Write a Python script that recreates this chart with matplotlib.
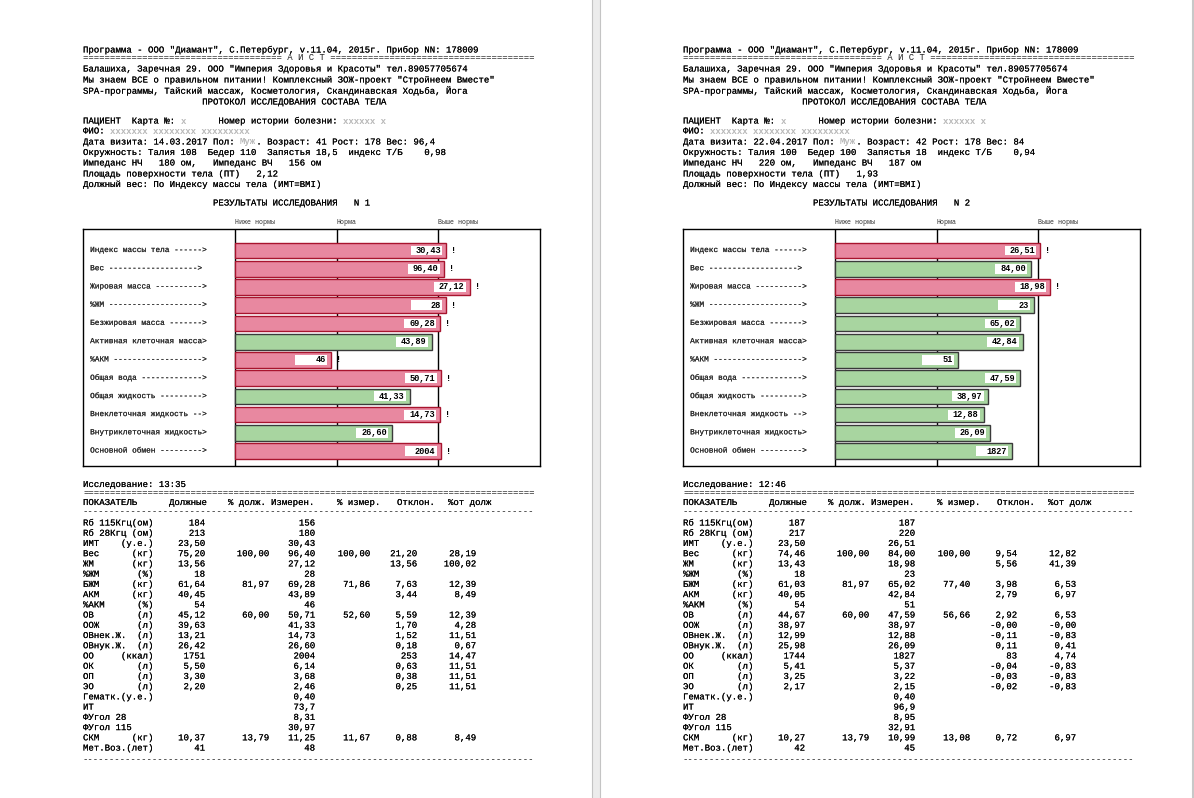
import matplotlib
matplotlib.use("Agg")
import matplotlib.pyplot as plt
import matplotlib.patheffects as pe
from matplotlib.patches import Rectangle

plt.rcParams['font.family'] = ['Liberation Mono', 'DejaVu Sans Mono']

W, H = 1194, 798
FS = 6.5
CW = FS / 72 * 100 * 0.6      # advance of one monospace char, px
BLUR = '#b8b8b8'
THICK = [pe.withStroke(linewidth=0.06, foreground='black')]

# ---------------- data ----------------
head_common = [
    'Программа - ООО "Диамант", С.Петербург, v.11.04, 2015г. Прибор NN: 178009',
    '=' * 37 + ' А И С Т ' + '=' * 38,
    'Балашиха, Заречная 29. ООО "Империя Здоровья и Красоты" тел.89057705674',
    'Мы знаем ВСЕ о правильном питании! Комплексный ЗОЖ-проект "Стройнеем Вместе"',
    'SPA-программы, Тайский массаж, Косметология, Скандинавская Ходьба, Йога',
]
title = 'ПРОТОКОЛ ИССЛЕДОВАНИЯ СОСТАВА ТЕЛА'

visit_date = ['14.03.2017', '22.04.2017']
age = ['41', '42']
weight = ['96,4', '84']
waist = ['108', '100']
hips = ['110', '100']
wrist = ['18,5', '18']
tb_index = ['0,98', '0,94']
imp_lf = ['180', '220']
imp_hf = ['156', '187']
surface = ['2,12', '1,93']
exam_no = ['1', '2']
exam_time = ['13:35', '12:46']

bar_names = ['Индекс массы тела ------>', 'Вес ------------------->',
             'Жировая масса ---------->', '%ЖМ -------------------->',
             'Безжировая масса ------->', 'Активная клеточная масса>',
             '%АКМ ------------------->', 'Общая вода ------------->',
             'Общая жидкость --------->', 'Внеклеточная жидкость -->',
             'Внутриклеточная жидкость>', 'Основной обмен --------->']
scale_names = ['Ниже нормы', 'Норма', 'Выше нормы']

bar_len_1 = [103.9, 102.6, 115.4, 103.9, 100.8, 96.8, 47.2, 101.1, 86.0, 100.8, 77.1, 101.1]
bar_txt_1 = ['30,43', '96,40', '27,12', '28', '69,28', '43,89', '46', '50,71',
             '41,33', '14,73', '26,60', '2004']
bar_flag_1 = [1, 1, 1, 1, 1, 0, 1, 1, 0, 1, 0, 1]

bar_len_2 = [101.0, 96.3, 105.9, 97.7, 91.1, 92.4, 60.3, 91.1, 75.1, 73.1, 76.3, 87.0]
bar_txt_2 = ['26,51', '84,00', '18,98', '23', '65,02', '42,84', '51', '47,59',
             '38,97', '12,88', '26,09', '1827']
bar_flag_2 = [1, 0, 1, 0, 0, 0, 0, 0, 0, 0, 0, 0]

col_heads = ['ПОКАЗАТЕЛЬ', 'Должные', '% долж.', 'Измерен.', '% измер.', 'Отклон.', '%от долж']
row_names = ['Rб 115Кгц', 'Rб 28Кгц', 'ИМТ', 'Вес', 'ЖМ', '%ЖМ', 'БЖМ', 'АКМ', '%АКМ',
             'ОВ', 'ООЖ', 'ОВнек.Ж.', 'ОВнук.Ж.', 'ОО', 'ОК', 'ОП', 'ЭО', 'Гематк.',
             'ИТ', 'ФУгол 28', 'ФУгол 115', 'СКМ', 'Мет.Воз.']
row_units = ['(ом)', '(ом)', '(у.е.)', '(кг)', '(кг)', '(%)', '(кг)', '(кг)', '(%)',
             '(л)', '(л)', '(л)', '(л)', '(ккал)', '(л)', '(л)', '(л)', '(у.е.)',
             '', '', '', '(кг)', '(лет)']

due_1 = ['184', '213', '23,50', '75,20', '13,56', '18', '61,64', '40,45', '54', '45,12',
         '39,63', '13,21', '26,42', '1751', '5,50', '3,30', '2,20', '', '', '', '', '10,37', '41']
due_pct_1 = ['', '', '', '100,00', '', '', '81,97', '', '', '60,00',
             '', '', '', '', '', '', '', '', '', '', '', '13,79', '']
meas_1 = ['156', '180', '30,43', '96,40', '27,12', '28', '69,28', '43,89', '46', '50,71',
          '41,33', '14,73', '26,60', '2004', '6,14', '3,68', '2,46', '0,40', '73,7',
          '8,31', '30,97', '11,25', '48']
meas_pct_1 = ['', '', '', '100,00', '', '', '71,86', '', '', '52,60',
              '', '', '', '', '', '', '', '', '', '', '', '11,67', '']
dev_1 = ['', '', '', '21,20', '13,56', '', '7,63', '3,44', '', '5,59', '1,70', '1,52', '0,18',
         '253', '0,63', '0,38', '0,25', '', '', '', '', '0,88', '']
dev_pct_1 = ['', '', '', '28,19', '100,02', '', '12,39', '8,49', '', '12,39', '4,28', '11,51',
             '0,67', '14,47', '11,51', '11,51', '11,51', '', '', '', '', '8,49', '']

due_2 = ['187', '217', '23,50', '74,46', '13,43', '18', '61,03', '40,05', '54', '44,67',
         '38,97', '12,99', '25,98', '1744', '5,41', '3,25', '2,17', '', '', '', '', '10,27', '42']
due_pct_2 = ['', '', '', '100,00', '', '', '81,97', '', '', '60,00',
             '', '', '', '', '', '', '', '', '', '', '', '13,79', '']
meas_2 = ['187', '220', '26,51', '84,00', '18,98', '23', '65,02', '42,84', '51', '47,59',
          '38,97', '12,88', '26,09', '1827', '5,37', '3,22', '2,15', '0,40', '96,9',
          '8,95', '32,91', '10,99', '45']
meas_pct_2 = ['', '', '', '100,00', '', '', '77,40', '', '', '56,66',
              '', '', '', '', '', '', '', '', '', '', '', '13,08', '']
dev_2 = ['', '', '', '9,54', '5,56', '', '3,98', '2,79', '', '2,92', '-0,00', '-0,11', '0,11',
         '83', '-0,04', '-0,03', '-0,02', '', '', '', '', '0,72', '']
dev_pct_2 = ['', '', '', '12,82', '41,39', '', '6,53', '6,97', '', '6,53', '-0,00', '-0,83',
             '0,41', '4,74', '-0,83', '-0,83', '-0,83', '', '', '', '', '6,97', '']

pages = [
    dict(bars=(bar_len_1, bar_txt_1, bar_flag_1),
         cols=(due_1, due_pct_1, meas_1, meas_pct_1, dev_1, dev_pct_1)),
    dict(bars=(bar_len_2, bar_txt_2, bar_flag_2),
         cols=(due_2, due_pct_2, meas_2, meas_pct_2, dev_2, dev_pct_2)),
]

PINK, PINK_EDGE = '#e888a0', '#a8142e'
GREEN, GREEN_EDGE = '#a8d5a0', '#3a3a3a'

# ---------------- drawing ----------------
fig = plt.figure(figsize=(W / 100, H / 100), dpi=100)
bg = fig.add_axes([0, 0, 1, 1])
bg.set_xlim(0, W)
bg.set_ylim(H, 0)
bg.axis('off')

# gap between the two pages and the right border
bg.add_patch(Rectangle((592, -5), 8, H + 10, fc='#ececec', ec='#c4c4c4', lw=0.8))
bg.plot([1192.5, 1192.5], [0, H], color='#c8c8c8', lw=1.5)


def put(x, y, s, **kw):
    kw.setdefault('fontsize', FS)
    kw.setdefault('va', 'center')
    kw.setdefault('color', 'black')
    if kw['color'] == 'black':
        kw.setdefault('path_effects', THICK)
    bg.text(x, y, s, **kw)


def put_segs(x, y, segs):
    col = 0
    for s, blur in segs:
        put(x + col * CW, y, s, color=BLUR if blur else 'black',
            fontweight='bold' if blur else 'normal')
        col += len(s)


for p, page in enumerate(pages):
    x0 = 83 + 600 * p

    # header block
    put(x0, 50, head_common[0])
    put(x0, 58, head_common[1], color='#222222')
    for s, y in zip(head_common[2:], [69, 80, 91]):
        put(x0, y, s)
    put(x0 + 22 * CW, 102, title)
    put_segs(x0, 121, [('ПАЦИЕНТ  Карта №: ', False), ('х', True),
                       ('      Номер истории болезни: ', False), ('хххххх х', True)])
    put_segs(x0, 131, [('ФИО: ', False), ('ххххххх хххххххх ххххххххх', True)])
    put_segs(x0, 142, [('Дата визита: %s Пол: ' % visit_date[p], False), ('Муж', True),
                       ('. Возраст: %s Рост: 178 Вес: %s' % (age[p], weight[p]), False)])
    put(x0, 152.5, 'Окружность: Талия %s  Бедер %s  Запястья %s  индекс Т/Б    %s'
        % (waist[p], hips[p], wrist[p], tb_index[p]))
    put(x0, 163, 'Импеданс НЧ   %s ом,   Импеданс ВЧ   %s ом' % (imp_lf[p], imp_hf[p]))
    put(x0, 174, 'Площадь поверхности тела (ПТ)   %s' % surface[p])
    put(x0, 184.5, 'Должный вес: По Индексу массы тела (ИМТ=BMI)')
    put(x0 + 24 * CW, 203, 'РЕЗУЛЬТАТЫ ИССЛЕДОВАНИЯ   N %s' % exam_no[p])

    # scale captions above the chart
    for k, s in enumerate(scale_names):
        put(x0 + 152 + k * 101.5, 222.5, s, fontsize=4.8, color='#333333')

    # bar chart
    lens, txts, flags = page['bars']
    bx, by, bw, bh = x0, 229, 457, 237
    ax = fig.add_axes([bx / W, 1 - (by + bh) / H, bw / W, bh / H])
    ax.set_xlim(-75, 150)
    ax.set_ylim(11.82, -1.18)
    ax.set_xticks([])
    ax.set_yticks([])
    for sp in ax.spines.values():
        sp.set_linewidth(1.0)
    for v in (0, 50, 100):
        ax.axvline(v, color='black', lw=1.0, zorder=1)
    ypos = list(range(len(lens)))
    ax.barh(ypos, lens, height=0.86, left=0,
            color=[PINK if f else GREEN for f in flags],
            edgecolor=[PINK_EDGE if f else GREEN_EDGE for f in flags],
            linewidth=1.0, zorder=2)
    for i, (L, t, f) in enumerate(zip(lens, txts, flags)):
        ax.add_patch(Rectangle((L - 17.6, i - 0.27), 15.6, 0.54, fc='white', ec='none', zorder=3))
        ax.text(L - 2.6, i, t, ha='right', va='center', fontsize=6.2,
                fontweight='bold', zorder=4)
        if f:
            ax.text(L + 2.4, i, '!', ha='left', va='center', fontsize=6.2, fontweight='bold')
        ax.text(-71.5, i, bar_names[i], ha='left', va='center', fontsize=5.6, color='#2a2a2a',
                path_effects=[pe.withStroke(linewidth=0.08, foreground='#2a2a2a')])

    # table
    put(x0, 484.5, 'Исследование: %s' % exam_time[p])
    put(x0, 493, '=' * 84, color='#222222')
    for s, hx in zip(col_heads, [0, 86, 145, 188, 254, 314, 365]):
        put(x0 + hx, 502.5, s)
    put(x0, 512, '-' * 84, color='#222222')
    col_right = [122, 186, 232, 287, 334, 393]
    for i, (nm, un) in enumerate(zip(row_names, row_units)):
        y = 523 + i * 10.23
        put(x0, y, nm.ljust(13 - len(un)) + un)
        for xr, col in zip(col_right, page['cols']):
            if col[i]:
                put(x0 + xr, y, col[i], ha='right')
    put(x0, 760, '-' * 84, color='#222222')

fig.savefig('out.png', dpi=100)
